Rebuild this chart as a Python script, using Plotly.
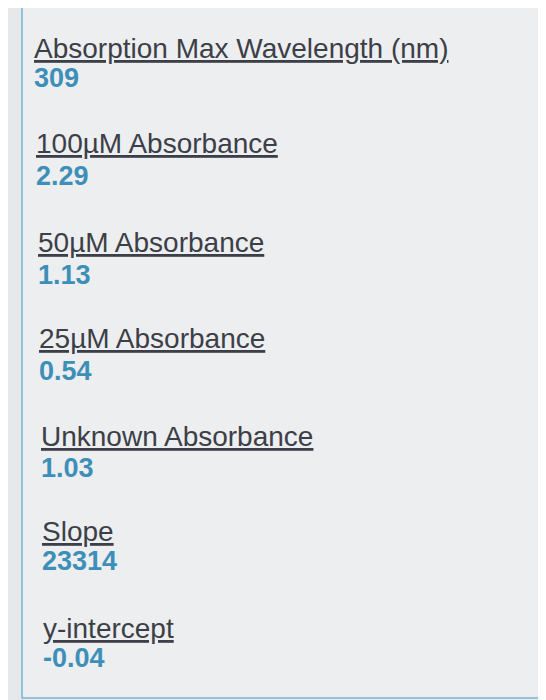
import plotly.graph_objects as go

labels = ["Absorption Max Wavelength (nm)", "100µM Absorbance", "50µM Absorbance",
          "25µM Absorbance", "Unknown Absorbance", "Slope", "y-intercept"]
values = ["309", "2.29", "1.13", "0.54", "1.03", "23314", "-0.04"]

label_y = [40, 135, 235, 330, 428, 523, 620]
value_y = [70, 168, 267, 363, 460, 553, 650]
xs = [24, 26, 28, 29, 31, 32, 33]

W, H = 546, 700
fig = go.Figure()
ann = []
for lab, val, ly, vy, x in zip(labels, values, label_y, value_y, xs):
    ann.append(dict(x=x / W, y=1 - ly / H, xref="paper", yref="paper", xanchor="left", yanchor="middle",
                    text=f"<u>{lab}</u>", showarrow=False,
                    font=dict(family="Liberation Sans, Arial", size=28, color="#3c3f47")))
    ann.append(dict(x=x / W, y=1 - vy / H, xref="paper", yref="paper", xanchor="left", yanchor="middle",
                    text=f"<b>{val}</b>", showarrow=False,
                    font=dict(family="Liberation Sans, Arial", size=27, color="#3d8fb8")))
fig.update_layout(
    width=W, height=H, margin=dict(l=0, r=0, t=0, b=0),
    paper_bgcolor="#e6e8ea", plot_bgcolor="#e6e8ea",
    xaxis=dict(visible=False, range=[0, 1]), yaxis=dict(visible=False, range=[0, 1]),
    annotations=ann,
    shapes=[dict(type="rect", xref="paper", yref="paper", x0=14 / W, x1=540 / W, y0=1 - 690 / H, y1=1.02,
                 line=dict(color="#8fc3dd", width=2), fillcolor="#eceef0", layer="below")],
)
fig.write_html("out.html")
